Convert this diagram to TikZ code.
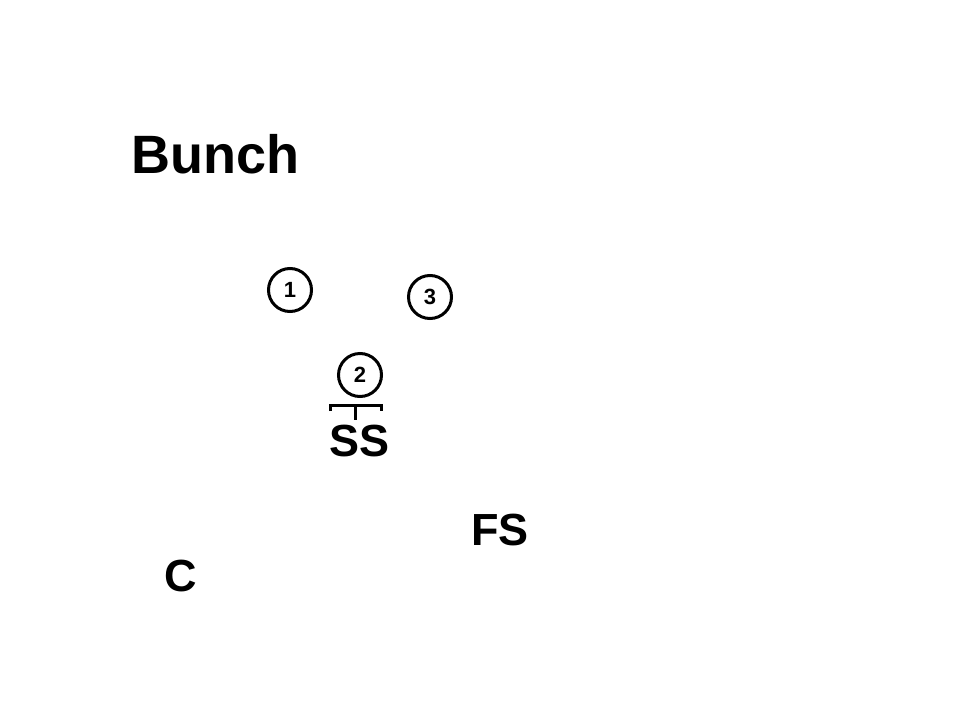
\documentclass[tikz,border=0pt]{standalone}
\usepackage{fontspec}
\setmainfont{Liberation Sans}
\begin{document}
\begin{tikzpicture}[x=1pt,y=-1pt,
    player/.style={circle,draw,line width=3pt,minimum size=43pt,inner sep=0pt,font=\fontsize{22}{22}\selectfont\bfseries},
    label/.style={anchor=base west,inner sep=0pt,font=\fontsize{45}{45}\selectfont\bfseries}]
                        \useasboundingbox (0,0) rectangle (960,720);
                        \node[anchor=base west,inner sep=0pt,font=\fontsize{54}{54}\selectfont\bfseries] (title) at (131,173) {Bunch};
                        \node[player] (r1) at (290,290) {1};
                        \node[player] (r3) at (430,297) {3};
                        \node[player] (r2) at (360,375) {2};
                        \node[label] (ss) at (329,456) {SS};
                        \node[label] (fs) at (471,545) {FS};
                        \node[label] (c) at (164,591) {C};
                        % jam mark in front of SS
                        \coordinate (jam) at (355,405);
                        \draw[line width=3pt] ([xshift=-25pt]jam) ++(0,6) |- ([xshift=26pt]jam) -- ++(0,6);
                        \draw[line width=3pt] (jam) -- ++(0,15);
                     \end{tikzpicture}
\end{document}
